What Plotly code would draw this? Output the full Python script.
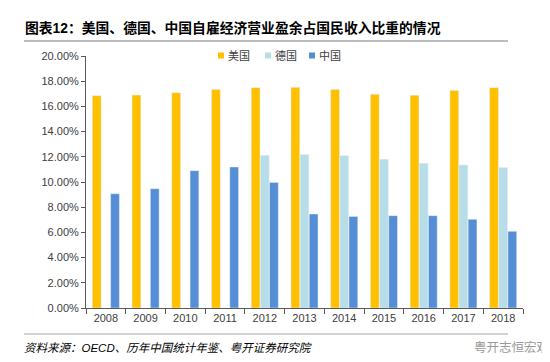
import plotly.graph_objects as go

years = ["2008", "2009", "2010", "2011", "2012", "2013", "2014", "2015", "2016", "2017", "2018"]
usa = [16.85, 16.90, 17.09, 17.35, 17.49, 17.51, 17.35, 16.96, 16.88, 17.27, 17.49]
germany = [None, None, None, None, 12.12, 12.19, 12.09, 11.80, 11.48, 11.35, 11.16]
china = [9.07, 9.47, 10.90, 11.19, 9.97, 7.46, 7.27, 7.33, 7.33, 7.04, 6.09]
y_ticks = [0, 2, 4, 6, 8, 10, 12, 14, 16, 18, 20]
y_labels = [f"{v:.2f}%" for v in y_ticks]

names = ["美国", "德国", "中国"]
colors = ["#FFC000", "#B7DEE8", "#558ED5"]
series = [usa, germany, china]

FONT = "Liberation Sans, Noto Sans CJK SC, Arial, sans-serif"

L, R, T, B = 78, 35, 48, 62
PW = 550 - L - R
PH = 362 - T - B


def px(xp):
    return (xp - L) / PW


def py(yp):
    return (362 - B - yp) / PH


fig = go.Figure()
for n, c, s in zip(names, colors, series):
    fig.add_trace(go.Bar(name=n, x=years, y=s, marker_color=c, showlegend=False))

fig.update_layout(
    width=550, height=362,
    margin=dict(l=L, r=R, t=T, b=B),
    paper_bgcolor="white", plot_bgcolor="white",
    barmode="group", bargap=0.31, bargroupgap=0.04,
    font=dict(family=FONT, size=11, color="#404040"),
    showlegend=False,
    xaxis=dict(type="category", showline=True, linecolor="#595959", linewidth=1,
               ticks="outside", ticklen=5, tickcolor="#595959", tickson="boundaries",
               tickfont=dict(size=11, color="#404040"), showgrid=False),
    yaxis=dict(range=[0, 20], tickvals=y_ticks, ticktext=y_labels,
               showline=True, linecolor="#595959", linewidth=1, ticks="outside",
               ticklen=4, tickcolor="#595959", showgrid=False, zeroline=False,
               tickfont=dict(size=11, color="#404040")),
)

# legend (manual, compact)
leg_x = [210, 257, 301]
for lx, n, c in zip(leg_x, names, colors):
    fig.add_shape(type="rect", xref="paper", yref="paper",
                  x0=px(lx), x1=px(lx + 6), y0=py(50.5), y1=py(44.5),
                  fillcolor=c, line=dict(width=0))
    fig.add_annotation(text=n, xref="paper", yref="paper", x=px(lx + 8), y=py(47.5),
                       xanchor="left", yanchor="middle", showarrow=False,
                       font=dict(size=11, color="#404040", family=FONT))

fig.add_annotation(text="<b>图表12：美国、德国、中国自雇经济营业盈余占国民收入比重的情况</b>",
                   xref="paper", yref="paper", x=px(15), y=py(20),
                   xanchor="left", yanchor="middle", showarrow=False,
                   font=dict(size=13.8, color="#000000", family=FONT))
fig.add_shape(type="line", xref="paper", yref="paper",
              x0=px(16), x1=px(500), y0=py(33), y1=py(33),
              line=dict(color="#A6A6A6", width=1.5))
fig.add_shape(type="line", xref="paper", yref="paper",
              x0=px(16), x1=px(500), y0=py(326), y1=py(326),
              line=dict(color="#A6A6A6", width=1))
fig.add_annotation(text="<i>资料来源：OECD、历年中国统计年鉴、粤开证券研究院</i>",
                   xref="paper", yref="paper", x=px(14), y=py(340),
                   xanchor="left", yanchor="middle", showarrow=False,
                   font=dict(size=11.5, color="#000000", family=FONT))
fig.add_annotation(text="粤开志恒宏观",
                   xref="paper", yref="paper", x=px(544), y=py(340),
                   xanchor="right", yanchor="middle", showarrow=False,
                   font=dict(size=12.5, color="#9a9a9a", family=FONT))

fig.write_html("out.html")
